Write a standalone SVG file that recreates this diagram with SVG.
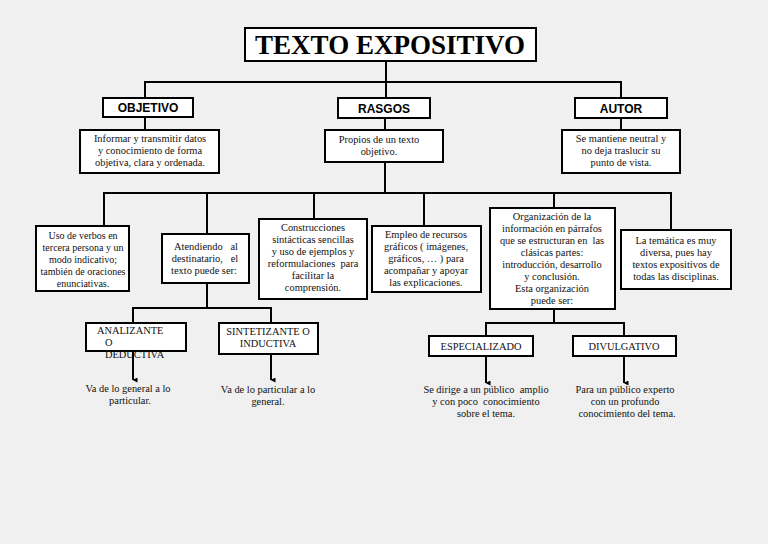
<svg xmlns="http://www.w3.org/2000/svg" width="768" height="544" viewBox="0 0 768 544">
<defs>
<style>
.bg{fill:#f0f0f0}
.box{fill:#fff;stroke:#000;stroke-width:2}
.ln{fill:none;stroke:#000;stroke-width:2}
.t{font-family:"Liberation Serif","Times New Roman",serif;font-size:10.4px;fill:#111;text-anchor:middle;white-space:pre}
.ts{font-size:10px}
.tl{font-family:"Liberation Serif","Times New Roman",serif;font-size:10.4px;fill:#111;white-space:pre}
.h{font-family:"Liberation Sans",Arial,sans-serif;font-size:12px;font-weight:bold;fill:#000;text-anchor:middle}
.title{font-family:"Liberation Serif","Times New Roman",serif;font-size:27px;font-weight:bold;fill:#000;text-anchor:middle}
</style>
<marker id="ar" viewBox="0 0 10 10" refX="5" refY="9" markerWidth="5" markerHeight="5" orient="auto-start-reverse" markerUnits="userSpaceOnUse">
<path d="M0,0 L10,0 L5,10 Z" fill="#000"/>
</marker>
</defs>
<rect class="bg" x="0" y="0" width="768" height="544"/>
<g id="connectors">
<path class="ln" d="M386,61 V82 M145,98 V82 H621 V98 M386,82 V98"/>
<path class="ln" d="M145,117 V130 M385,118 V130 M621,118 V130"/>
<path class="ln" d="M385,162 V193 M104,226 V193 H671 V230 M207,193 V234 M314,193 V219 M424,193 V226 M554,193 V208"/>
<path class="ln" d="M207,283 V308 M133,323 V308 H271 V323"/>
<path class="ln" d="M554,309 V323 M486,336 V323 H624 V336"/>
<path class="ln" d="M133,351 V380" marker-end="url(#ar)"/>
<path class="ln" d="M271,354 V380" marker-end="url(#ar)"/>
<path class="ln" d="M486,356 V383" marker-end="url(#ar)"/>
<path class="ln" d="M624,356 V383" marker-end="url(#ar)"/>
</g>
<g id="title">
<rect class="box" x="245" y="28" width="291" height="33"/>
<text class="title" x="390" y="54">TEXTO EXPOSITIVO</text>
</g>
<g id="objetivo">
<rect class="box" x="103" y="98" width="90" height="19"/>
<text class="h" x="148" y="112">OBJETIVO</text>
</g>
<g id="rasgos">
<rect class="box" x="338" y="98" width="92" height="20"/>
<text class="h" x="384" y="113">RASGOS</text>
</g>
<g id="autor">
<rect class="box" x="575" y="98" width="92" height="20"/>
<text class="h" x="621" y="113">AUTOR</text>
</g>
<g id="informar">
<rect class="box" x="80" y="130" width="139" height="43"/>
<text class="t" x="150" y="142">Informar y transmitir datos</text>
<text class="t" x="150" y="154">y conocimiento de forma</text>
<text class="t" x="150" y="166">objetiva, clara y ordenada.</text>
</g>
<g id="propios">
<rect class="box" x="325" y="130" width="118" height="32"/>
<text class="t" x="379" y="143">Propios de un texto</text>
<text class="t" x="379" y="155">objetivo.</text>
</g>
<g id="neutral">
<rect class="box" x="562" y="130" width="118" height="43"/>
<text class="t" x="621" y="142">Se mantiene neutral y</text>
<text class="t" x="621" y="154">no deja traslucir su</text>
<text class="t" x="621" y="166">punto de vista.</text>
</g>
<g id="verbos">
<rect class="box" x="36" y="226" width="93" height="65"/>
<text class="t ts" x="83" y="239">Uso de verbos en</text>
<text class="t ts" x="83" y="251">tercera persona y un</text>
<text class="t ts" x="83" y="263">modo indicativo;</text>
<text class="t ts" x="83" y="275">también de oraciones</text>
<text class="t ts" x="83" y="287">enunciativas.</text>
</g>
<g id="atendiendo">
<rect class="box" x="162" y="234" width="87" height="49"/>
<text class="t" x="206" y="250">Atendiendo   al</text>
<text class="t" x="205" y="262">destinatario,   el</text>
<text class="t" x="204" y="274">texto puede ser:</text>
</g>
<g id="construcciones">
<rect class="box" x="259" y="219" width="108" height="80"/>
<text class="t" x="313" y="231">Construcciones</text>
<text class="t" x="313" y="243">sintácticas sencillas</text>
<text class="t" x="313" y="255">y uso de ejemplos y</text>
<text class="t" x="313" y="267">reformulaciones  para</text>
<text class="t" x="313" y="279">facilitar la</text>
<text class="t" x="313" y="291">comprensión.</text>
</g>
<g id="empleo">
<rect class="box" x="372" y="226" width="109" height="66"/>
<text class="t" x="426" y="238">Empleo de recursos</text>
<text class="t" x="426" y="250">gráficos ( imágenes,</text>
<text class="t" x="426" y="262">gráficos, … ) para</text>
<text class="t" x="426" y="274">acompañar y apoyar</text>
<text class="t" x="426" y="286">las explicaciones.</text>
</g>
<g id="organizacion">
<rect class="box" x="490" y="208" width="125" height="101"/>
<text class="t" x="552" y="220">Organización de la</text>
<text class="t" x="552" y="232">información en párrafos</text>
<text class="t" x="552" y="244">que se estructuran en  las</text>
<text class="t" x="552" y="256">clásicas partes:</text>
<text class="t" x="552" y="268">introducción, desarrollo</text>
<text class="t" x="552" y="280">y conclusión.</text>
<text class="t" x="552" y="292">Esta organización</text>
<text class="t" x="552" y="304">puede ser:</text>
</g>
<g id="tematica">
<rect class="box" x="621" y="230" width="110" height="59"/>
<text class="t" x="676" y="244">La temática es muy</text>
<text class="t" x="676" y="256">diversa, pues hay</text>
<text class="t" x="676" y="268">textos expositivos de</text>
<text class="t" x="676" y="280">todas las disciplinas.</text>
</g>
<g id="analizante">
<rect class="box" x="86" y="323" width="100" height="28"/>
<text class="tl" x="97" y="334">ANALIZANTE</text>
<text class="tl" x="105" y="346">O</text>
<text class="tl" x="105" y="358">DEDUCTIVA</text>
</g>
<g id="sintetizante">
<rect class="box" x="219" y="323" width="99" height="31"/>
<text class="t" x="268" y="335">SINTETIZANTE O</text>
<text class="t" x="268" y="347">INDUCTIVA</text>
</g>
<g id="general">
<text class="t" x="128" y="392">Va de lo general a lo</text>
<text class="t" x="130" y="404">particular.</text>
</g>
<g id="particular">
<text class="t" x="268" y="393">Va de lo particular a lo</text>
<text class="t" x="268" y="405">general.</text>
</g>
<g id="especializado">
<rect class="box" x="429" y="336" width="104" height="20"/>
<text class="t" x="481" y="350">ESPECIALIZADO</text>
</g>
<g id="divulgativo">
<rect class="box" x="573" y="336" width="103" height="20"/>
<text class="t" x="624" y="350">DIVULGATIVO</text>
</g>
<g id="amplio">
<text class="t" x="486" y="393">Se dirige a un público  amplio</text>
<text class="t" x="486" y="405">y con poco  conocimiento</text>
<text class="t" x="486" y="417">sobre el tema.</text>
</g>
<g id="experto">
<text class="t" x="625" y="393">Para un público experto</text>
<text class="t" x="625" y="405">con un profundo</text>
<text class="t" x="627" y="417">conocimiento del tema.</text>
</g>
</svg>
